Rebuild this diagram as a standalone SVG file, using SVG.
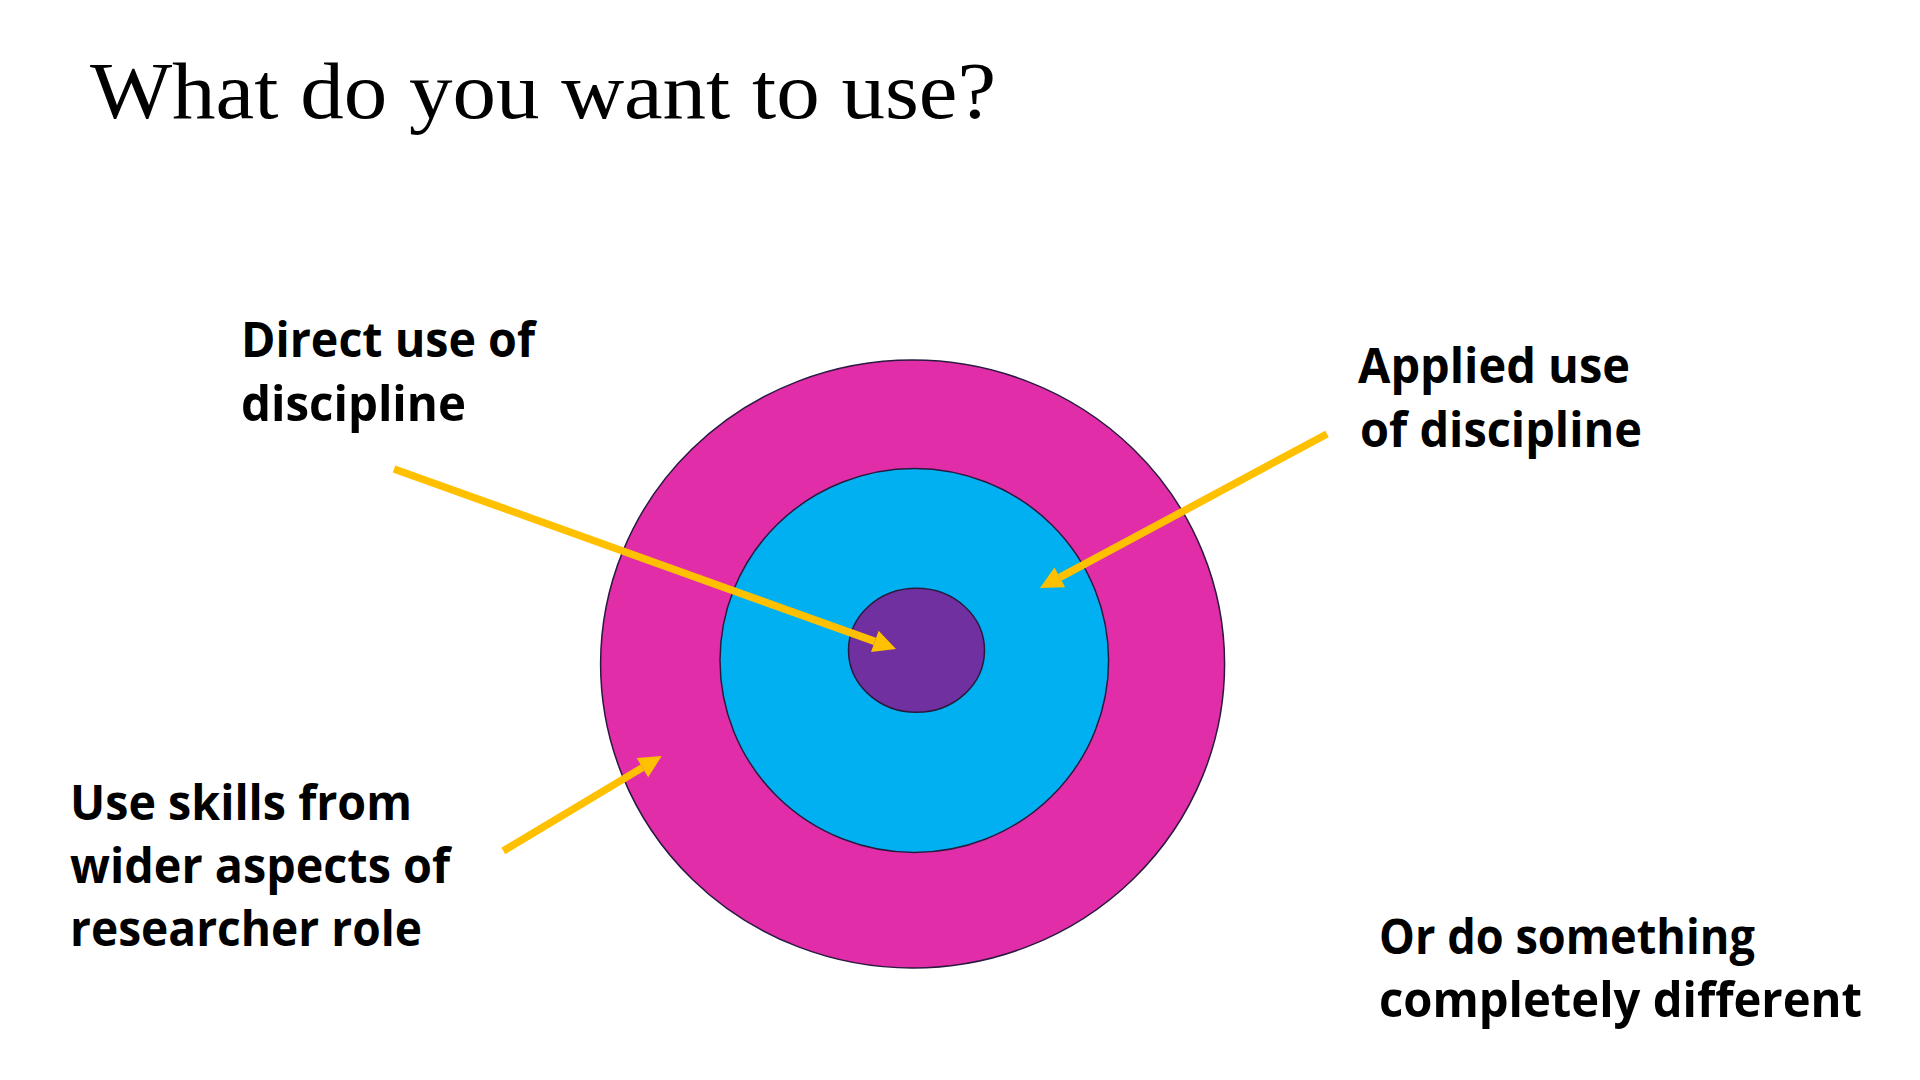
<svg xmlns="http://www.w3.org/2000/svg" width="1920" height="1080" viewBox="0 0 1920 1080">
  <style>
    .title { font-family: "Liberation Serif", "DejaVu Serif", serif; font-size: 80px; fill: #000; }
    .lbl { font-family: "Open Sans", "Noto Sans", "Liberation Sans", sans-serif; font-weight: 700; font-size: 49px; fill: #000; }
    .ring { stroke: #2a1a40; stroke-width: 1.5; }
    .arrow { stroke: #FFC000; stroke-width: 7.5; fill: none; stroke-linecap: butt; marker-end: url(#head); }
  </style>
  <defs>
    <marker id="head" markerUnits="strokeWidth" markerWidth="3" markerHeight="3" refX="0" refY="1.5" orient="auto" overflow="visible">
      <path d="M0,0 L3,1.5 L0,3 Z" fill="#FFC000"/>
    </marker>
  </defs>
  <rect width="1920" height="1080" fill="#ffffff"/>

  <g id="title">
    <text class="title" x="90" y="118" textLength="906" lengthAdjust="spacingAndGlyphs">What do you want to use?</text>
  </g>

  <g id="target">
    <ellipse id="outer-ring" class="ring" cx="912.6" cy="664" rx="312" ry="304" fill="#E22DA8"/>
    <ellipse id="middle-ring" class="ring" cx="914.3" cy="660.5" rx="194.3" ry="192" fill="#00B0F0"/>
    <ellipse id="inner-ring" class="ring" cx="916.5" cy="650.3" rx="68" ry="62" fill="#7030A0"/>
  </g>

  <g id="connectors">
    <line class="arrow" x1="394" y1="469" x2="874.8" y2="641.4"/>
    <line class="arrow" x1="1327" y1="434" x2="1059.8" y2="577.4"/>
    <line class="arrow" x1="503.3" y1="851" x2="642.4" y2="767.6"/>
  </g>

  <g id="label-direct">
    <text class="lbl" x="241" y="357" textLength="294" lengthAdjust="spacingAndGlyphs">Direct use of</text>
    <text class="lbl" x="241" y="421" textLength="225" lengthAdjust="spacingAndGlyphs">discipline</text>
  </g>
  <g id="label-applied">
    <text class="lbl" x="1358" y="383" textLength="272" lengthAdjust="spacingAndGlyphs">Applied use</text>
    <text class="lbl" x="1360" y="447" textLength="282" lengthAdjust="spacingAndGlyphs">of discipline</text>
  </g>
  <g id="label-wider">
    <text class="lbl" x="70" y="820" textLength="342" lengthAdjust="spacingAndGlyphs">Use skills from</text>
    <text class="lbl" x="70" y="883" textLength="380" lengthAdjust="spacingAndGlyphs">wider aspects of</text>
    <text class="lbl" x="70" y="946" textLength="352" lengthAdjust="spacingAndGlyphs">researcher role</text>
  </g>
  <g id="label-different">
    <text class="lbl" x="1379" y="954" textLength="376" lengthAdjust="spacingAndGlyphs">Or do something</text>
    <text class="lbl" x="1379" y="1017" textLength="483" lengthAdjust="spacingAndGlyphs">completely different</text>
  </g>
</svg>
